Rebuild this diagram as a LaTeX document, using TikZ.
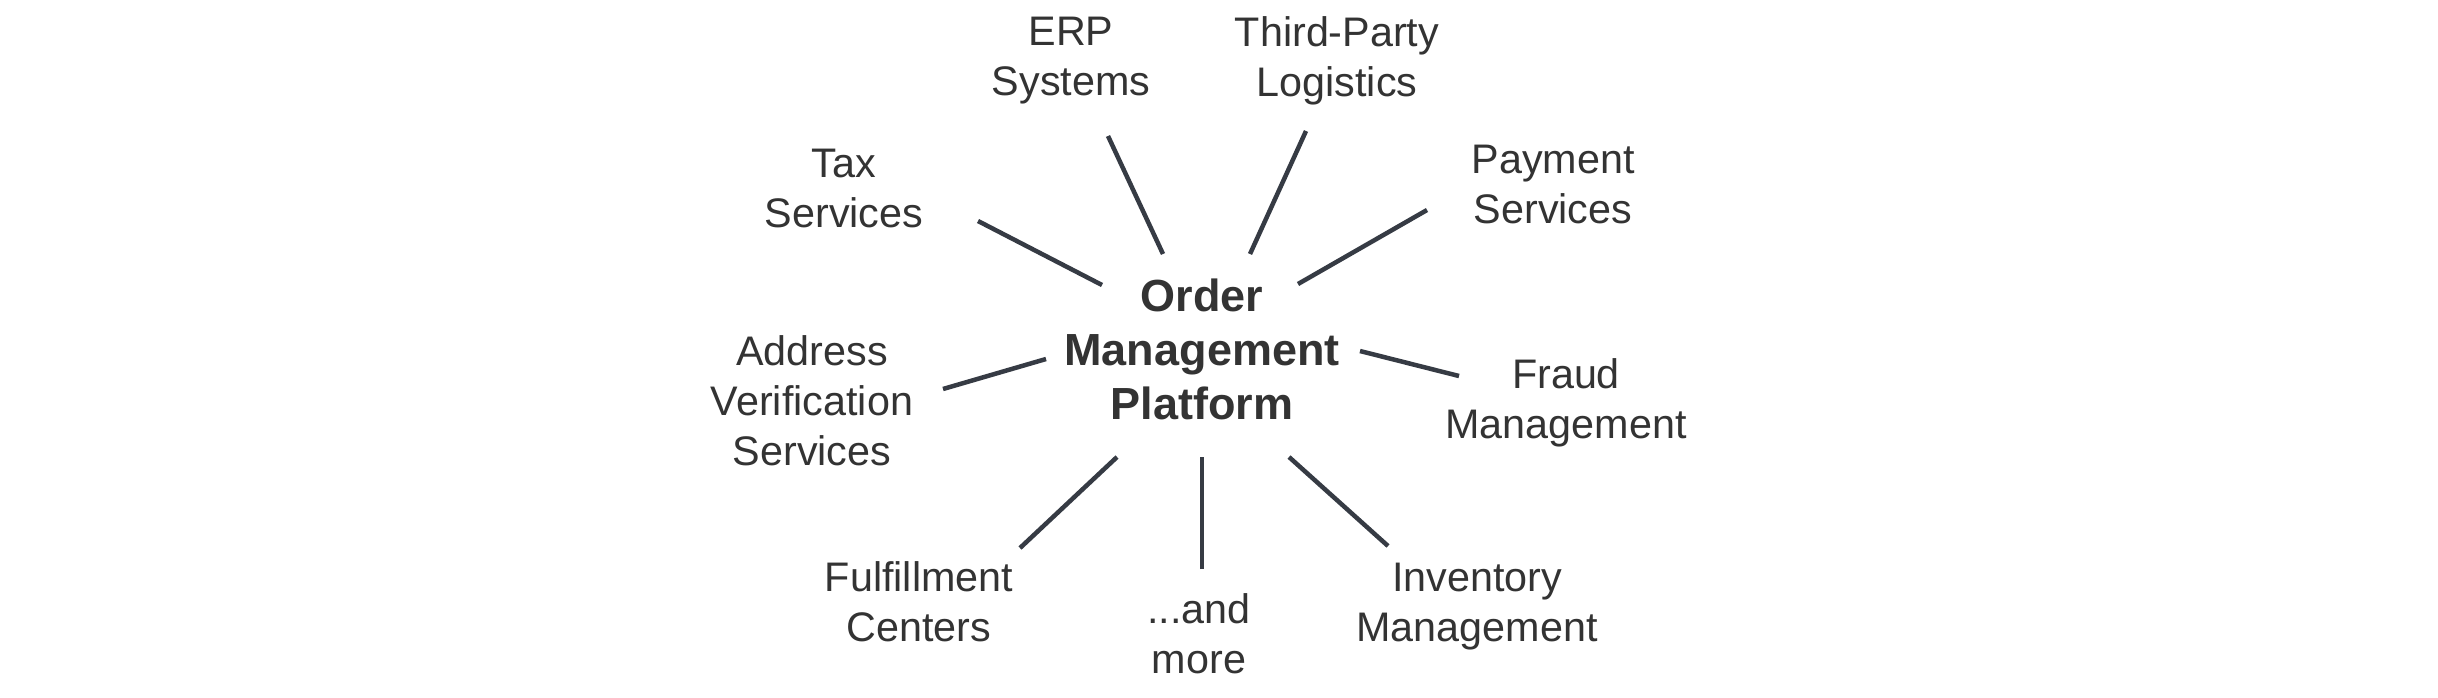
\documentclass[tikz,border=0pt]{standalone}
\usepackage{fontspec}
\setmainfont{Liberation Sans}
\definecolor{txt}{HTML}{333333}
\definecolor{ln}{HTML}{363B44}
\begin{document}
\begin{tikzpicture}[x=1pt,y=-1pt,
  lbl/.style={text=txt,align=center,inner sep=0pt,font=\fontsize{41.3}{50}\selectfont},
  hub/.style={text=txt,align=center,inner sep=0pt,font=\fontsize{45}{54}\selectfont\bfseries},
  spoke/.style={draw=ln,line width=4.5pt,line cap=butt}]
\useasboundingbox[fill=white] (0,0) rectangle (2438,697);
\node[hub] (c) at (1202,349) {Order\\Management\\Platform};
\node[lbl] (erp) at (1071,61) {ERP\\Systems};
\node[lbl] (tpl) at (1337,61) {Third-Party\\Logistics};
\node[lbl] (tax) at (844,188) {Tax\\Services};
\node[lbl] (pay) at (1553,184) {Payment\\Services};
\node[lbl] (addr) at (812,401) {Address\\Verification\\Services};
\node[lbl] (fraud) at (1566,403) {Fraud\\Management};
\node[lbl] (ful) at (919,602) {Fulfillment\\Centers};
\node[lbl] (more) at (1199,634) {...and\\more};
\node[lbl] (inv) at (1477,607) {Inventory\\Management};
% spoke end points
\coordinate (tax1) at (978,221);  \coordinate (tax2) at (1102,285);
\coordinate (erp1) at (1108,136); \coordinate (erp2) at (1163,254);
\coordinate (tpl1) at (1306,131); \coordinate (tpl2) at (1250,254);
\coordinate (pay1) at (1427,210); \coordinate (pay2) at (1298,284);
\coordinate (addr1) at (943,389); \coordinate (addr2) at (1046,359);
\coordinate (fraud1) at (1459,376); \coordinate (fraud2) at (1360,351);
\coordinate (ful1) at (1020,548); \coordinate (ful2) at (1117,457);
\coordinate (more1) at (1202,569); \coordinate (more2) at (1202,457);
\coordinate (inv1) at (1388,546); \coordinate (inv2) at (1289,457);
\foreach \s in {tax,erp,tpl,pay,addr,fraud,ful,more,inv}
  \draw[spoke] (\s1) -- (\s2);
\end{tikzpicture}
\end{document}
